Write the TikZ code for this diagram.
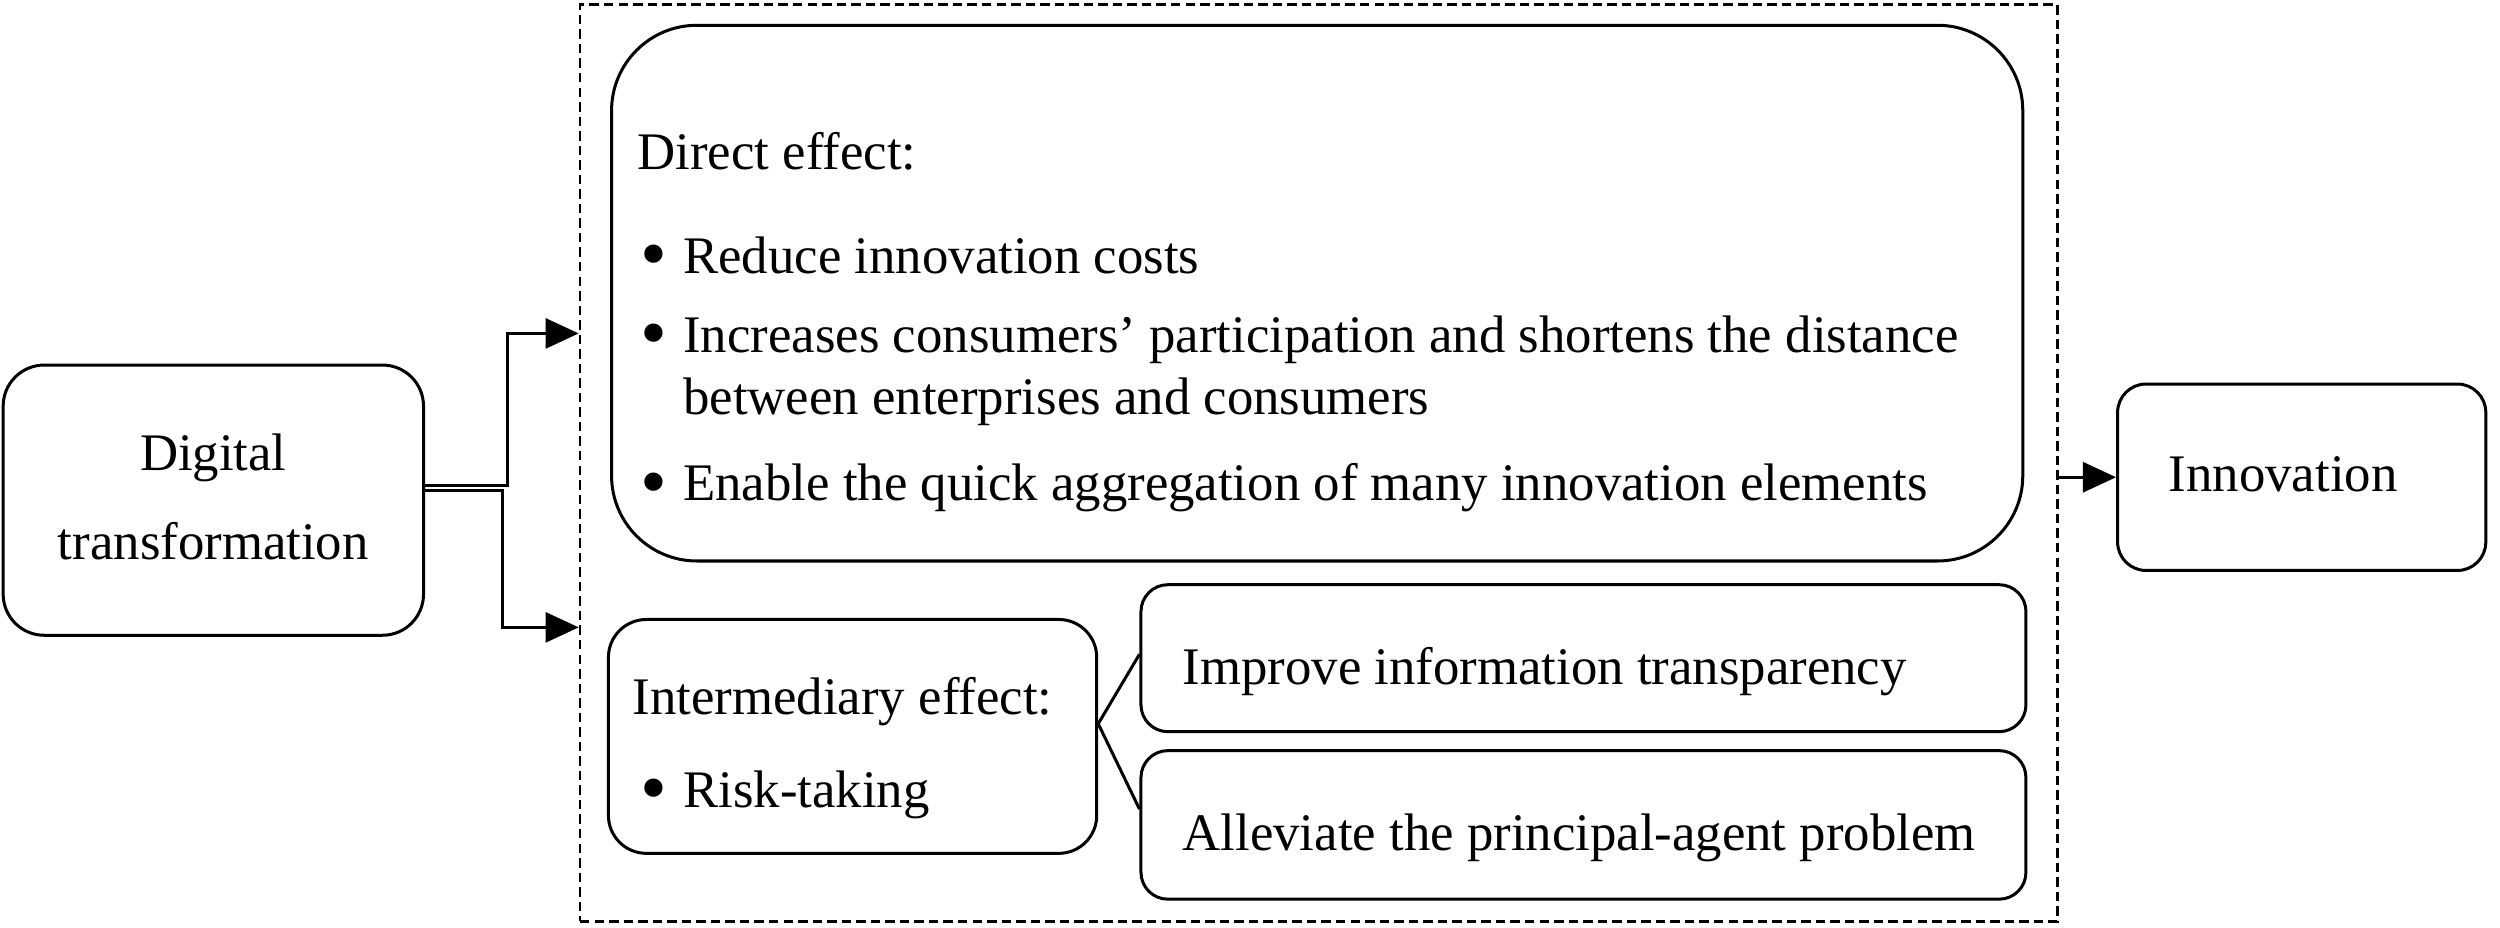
\documentclass[tikz,border=0pt]{standalone}
\usepackage{fontspec}
\setmainfont{Liberation Serif}
\usetikzlibrary{arrows.meta,fit}
\newcommand{\bul}{\raisebox{-0.25ex}{\scalebox{1.45}{•}}}
\begin{document}
\begin{tikzpicture}[x=0.5pt,y=-0.5pt,
  font=\fontsize{16.7}{20}\selectfont,
  box/.style={draw,line width=0.95pt,inner sep=0pt},
  txt/.style={anchor=base west,inner sep=0pt},
  ctxt/.style={anchor=base,inner sep=0pt},
  link/.style={line width=0.95pt},
  arr/.style={line width=0.95pt,-{Triangle[length=10.5pt,width=9.5pt]}},
  grpbox/.style={draw,line width=0.8pt,dash pattern=on 3pt off 1.6pt,inner sep=0pt}]
\useasboundingbox (0,0) rectangle (1582,587);
% group (dashed)
\node[grpbox,fit={(367,3)(1302,583)}] (grp) {};
% boxes
\node[box,rounded corners=13pt,fit={(2,231)(268,402)}] (dig) {};
\node[box,rounded corners=27pt,fit={(387,16)(1280,355)}] (dir) {};
\node[box,rounded corners=12pt,fit={(385,392)(694,540)}] (inter) {};
\node[box,rounded corners=8.5pt,fit={(722,370)(1282,463)}] (imp) {};
\node[box,rounded corners=8.5pt,fit={(722,475)(1282,569)}] (all) {};
\node[box,rounded corners=9pt,fit={(1340,243)(1573,361)}] (inn) {};
% texts
\node[ctxt] (t1) at (135,298) {Digital};
\node[ctxt] (t2) at (135,354) {transformation};
\node[txt] (d0) at (403,107) {Direct effect:};
\node[txt] (b1) at (405,173) {\bul};
\node[txt] (d1) at (432,173) {Reduce innovation costs};
\node[txt] (b2) at (405,223) {\bul};
\node[txt] (d2) at (432,223) {Increases consumers’ participation and shortens the distance};
\node[txt] (d3) at (432,262) {between enterprises and consumers};
\node[txt] (b3) at (405,317) {\bul};
\node[txt] (d4) at (432,317) {Enable the quick aggregation of many innovation elements};
\node[txt] (i0) at (400,452) {Intermediary effect:};
\node[txt] (b4) at (405,511) {\bul};
\node[txt] (i1) at (432,511) {Risk-taking};
\node[txt] (m1) at (748,433) {Improve information transparency};
\node[txt] (m2) at (748,538) {Alleviate the principal-agent problem};
\node[txt] (n1) at (1372,311) {Innovation};
% connectors
\draw[arr] (dig.east |- 0,307.5) -- (321,307.5) -- (321,211) -- (grp.west |- 0,211);
\draw[arr] (dig.east |- 0,310.5) -- (318,310.5) -- (318,397) -- (grp.west |- 0,397);
\draw[arr] (grp.east |- 0,302) -- (inn.west |- 0,302);
\draw[link] (inter.east |- 0,458) -- (imp.west |- 0,414);
\draw[link] (inter.east |- 0,458) -- (all.west |- 0,512);
\end{tikzpicture}
\end{document}
